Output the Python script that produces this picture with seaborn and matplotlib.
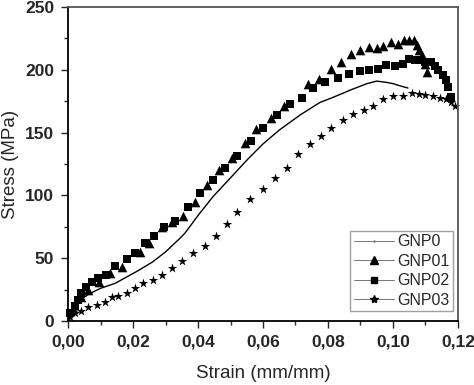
import matplotlib
matplotlib.use("Agg")
import matplotlib.pyplot as plt
from matplotlib.lines import Line2D
from matplotlib.ticker import FuncFormatter, MultipleLocator
import seaborn as sns
import pandas as pd

# GNP0 - continuous curve
gnp0_strain = [0.0, 0.001, 0.003, 0.005, 0.0068, 0.010, 0.0145, 0.018, 0.0215, 0.026, 0.030,
               0.0345, 0.036, 0.040, 0.0446, 0.050, 0.055, 0.060, 0.065, 0.0714, 0.0775,
               0.0815, 0.087, 0.092, 0.095, 0.098, 0.100, 0.1025, 0.1046]
gnp0_stress = [0, 7, 14, 19, 22, 26, 30, 35, 40, 47, 55,
               66, 70, 84, 99, 114, 128, 141, 152, 164, 174,
               178, 184, 189, 191, 190, 189, 187, 185.5]

# GNP01 - triangles
gnp01_strain = [0.0015, 0.004, 0.006, 0.0095, 0.013, 0.0166, 0.022, 0.025, 0.029, 0.032, 0.0355,
                0.039, 0.0428, 0.0465, 0.0505, 0.0545, 0.058, 0.0625, 0.0665, 0.0738, 0.0772,
                0.081, 0.084, 0.087, 0.090, 0.0926, 0.095, 0.097, 0.0994, 0.1015, 0.1034,
                0.105, 0.1065, 0.1074, 0.108, 0.109, 0.110, 0.1104]
gnp01_stress = [10, 19, 25, 31, 38, 43, 55, 62, 75, 79, 84,
                95, 108, 120, 130, 142, 153, 162, 171, 189, 193,
                201, 206, 212.6, 216, 218, 217, 219, 222, 220.5, 224,
                224, 224, 220, 216, 212, 205, 198]

# GNP02 - squares
gnp02_strain = [0.0006, 0.002, 0.003, 0.004, 0.0055, 0.0073, 0.0093, 0.0117, 0.0145, 0.018,
                0.0206, 0.0237, 0.0265, 0.0296, 0.033, 0.037, 0.0406, 0.0446, 0.0483, 0.052,
                0.0563, 0.060, 0.0643, 0.0683, 0.072, 0.0754, 0.079, 0.083, 0.0865, 0.0898,
                0.0926, 0.0954, 0.098, 0.1006, 0.103, 0.105, 0.1068, 0.1086, 0.110, 0.1117,
                0.113, 0.114, 0.1154, 0.1163, 0.117, 0.1178]
gnp02_stress = [6, 12, 17, 22, 27, 31, 34, 37, 44, 49,
                54, 62, 68, 75, 80, 91, 102, 112, 122, 131,
                143, 154, 164, 173, 177.5, 185.5, 190, 193.5, 196.7, 199,
                200, 201, 204, 203, 205, 209, 208, 208, 206, 206,
                203, 200, 196, 192, 186, 178]

# GNP03 - stars
gnp03_strain = [0.0006, 0.002, 0.004, 0.006, 0.009, 0.0114, 0.0135, 0.0154, 0.018, 0.0206,
                0.023, 0.026, 0.029, 0.032, 0.035, 0.0385, 0.042, 0.0455, 0.049, 0.052,
                0.056, 0.060, 0.0637, 0.0674, 0.0708, 0.0745, 0.078, 0.081, 0.0846, 0.0878,
                0.091, 0.094, 0.097, 0.100, 0.103, 0.106, 0.108, 0.110, 0.1124, 0.1145,
                0.1163, 0.118, 0.119]
gnp03_stress = [3, 6, 8, 11, 13, 15, 19, 20, 22.6, 26,
                30, 33, 37, 42, 48, 54, 60, 68, 77, 87,
                97, 105, 114, 122, 133, 141, 147, 154, 160, 165,
                168, 171, 176.5, 179, 179, 181.5, 181, 180, 179, 177.5,
                177, 174.5, 171]

labels = ["GNP0", "GNP01", "GNP02", "GNP03"]

sns.set_style("ticks")
plt.rcParams['font.family'] = ['Liberation Sans', 'DejaVu Sans']

fig = plt.figure(figsize=(4.74, 3.85), dpi=100)
ax = fig.add_axes([0.1435, 0.1662, 0.8227, 0.8156])

df0 = pd.DataFrame({"x": gnp0_strain, "y": gnp0_stress})
sns.lineplot(data=df0, x="x", y="y", ax=ax, color="black", lw=1.0, sort=False)

for xs, ys, m, s in [(gnp01_strain, gnp01_stress, "^", 48),
                     (gnp02_strain, gnp02_stress, "s", 34),
                     (gnp03_strain, gnp03_stress, "*", 50)]:
    d = pd.DataFrame({"x": xs, "y": ys})
    sns.scatterplot(data=d, x="x", y="y", ax=ax, marker=m, s=s, color="black",
                    edgecolor="black", linewidth=0, clip_on=False)

ax.set_xlim(0, 0.12)
ax.set_ylim(0, 250)
ax.xaxis.set_major_locator(MultipleLocator(0.02))
ax.xaxis.set_minor_locator(MultipleLocator(0.01))
ax.yaxis.set_major_locator(MultipleLocator(50))
ax.yaxis.set_minor_locator(MultipleLocator(25))
ax.xaxis.set_major_formatter(FuncFormatter(lambda v, p: f"{v:.2f}".replace(".", ",")))
ax.yaxis.set_major_formatter(FuncFormatter(lambda v, p: f"{v:.0f}"))
ax.tick_params(which="major", direction="out", length=5, width=1, labelsize=12.5, pad=5)
ax.tick_params(which="minor", direction="out", length=3, width=1)
for t in ax.get_xticklabels() + ax.get_yticklabels():
    t.set_fontweight("bold")

ax.set_xlabel("Strain (mm/mm)", fontsize=13.5, labelpad=11)
ax.set_ylabel("Stress (MPa)", fontsize=13.5, labelpad=4)

for sp in ["left", "bottom"]:
    ax.spines[sp].set_linewidth(1.3)
    ax.spines[sp].set_color("black")
for sp in ["top", "right"]:
    ax.spines[sp].set_linewidth(1.3)
    ax.spines[sp].set_color("#555555")

handles = [
    Line2D([], [], color="#777777", lw=0.7, marker=".", markersize=1.5),
    Line2D([], [], color="#777777", lw=0.7, marker="^", markersize=5.5, mfc="black", mec="black"),
    Line2D([], [], color="#777777", lw=0.7, marker="s", markersize=4.5, mfc="black", mec="black"),
    Line2D([], [], color="#777777", lw=0.7, marker="*", markersize=6, mfc="black", mec="black"),
]
leg = ax.legend(handles, labels, loc="lower right", fontsize=11.5, frameon=True,
                fancybox=False, handlelength=2.5, handletextpad=0.25,
                labelspacing=0.28, borderpad=0.2, borderaxespad=0,
                bbox_to_anchor=(453 / 474, 1 - 311 / 385), bbox_transform=fig.transFigure)
leg.get_frame().set_edgecolor("#888888")
leg.get_frame().set_linewidth(1.0)

fig.savefig("out.png", dpi=100)
